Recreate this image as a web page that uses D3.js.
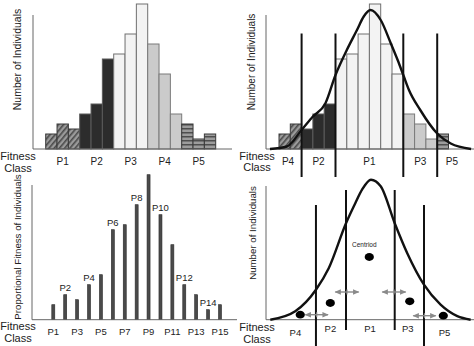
<!DOCTYPE html>
<html>
<head>
<meta charset="utf-8">
<script src="https://cdn.jsdelivr.net/npm/d3@7"></script>
<style>
  html, body { margin: 0; padding: 0; background: #fff; }
  svg { display: block; font-family: "Liberation Sans", Arial, sans-serif; }
</style>
</head>
<body>
<svg id="chart" width="474" height="346"></svg>
<script>
// ---- data ----
var binCounts   = [3, 5, 4, 7, 9, 18, 19, 23, 29, 21, 15, 7, 5, 2, 3];
var classesA    = ["P1","P1","P1","P2","P2","P2","P3","P3","P3","P4","P4","P4","P5","P5","P5"];
var classOrderA = ["P1","P2","P3","P4","P5"];
var classesB    = ["P4","P4","P2","P2","P2","P1","P1","P1","P1","P1","P1","P3","P3","P3","P5"];
var classOrderB = ["P4","P2","P1","P3","P5"];
var classCentersB = [0.8, 3.5, 8.0, 12.5, 15.3];   // fitness units

var popLabels = d3.range(1, 16).map(function(d) { return "P" + d; });

// normal curve (fitness units, counts)
var curveTopX = [-0.8, 0.7, 2.0, 3.0, 4.1, 5.0, 6.0, 6.9, 7.5, 8.1, 9.0, 9.9, 10.5, 11.0, 11.5, 12.5, 14.0, 15.2, 17.0];
var curveTopY = [0, 0.5, 3.8, 6.5, 9.1, 14.8, 19.8, 23.8, 26.5, 27.8, 25.8, 21.1, 17.8, 14.8, 11.8, 7.8, 3.1, 1.1, 0];

// curve from the bottom-right panel
var curveBotX = [-0.77, 1.44, 3.27, 4.4, 5.93, 6.75, 7.35, 8.14, 9.0, 10.24, 11.35, 12.83, 14.3, 15.78, 16.96];
var curveBotY = [0, 1.7, 6.0, 10.3, 19.3, 23.3, 26.0, 28.0, 26.7, 19.3, 13.3, 7.0, 3.0, 0.7, 0];

var bounds4     = [3.27, 5.93, 10.24, 12.83];
var dotNames    = ["P4","P2","Centriod","P3","P5"];
var dotX        = [1.88, 4.54, 7.99, 11.57, 14.54];
var dotY        = [1.0, 3.34, 12.54, 3.68, 0.8];
var arrowFrom   = [2.33, 4.98, 9.14, 11.88];
var arrowTo     = [4.34, 7.05, 11.21, 13.87];
var arrowY      = [1.0, 5.54, 5.54, 0.8];
var classNames4 = ["P4","P2","P1","P3","P5"];
var classCenters4 = [1.45, 4.55, 8.05, 11.4, 14.65];

// ---- drawing ----
var svg = d3.select("#chart");
var defs = svg.append("defs");

var hatch = defs.append("pattern").attr("id", "hatch")
    .attr("patternUnits", "userSpaceOnUse").attr("width", 4).attr("height", 4)
    .attr("patternTransform", "rotate(40)");
hatch.append("rect").attr("width", 4).attr("height", 4).attr("fill", "#9a9a9a");
hatch.append("rect").attr("width", 1.6).attr("height", 4).attr("fill", "#4a4a4a");

var stripes = defs.append("pattern").attr("id", "stripes")
    .attr("patternUnits", "userSpaceOnUse").attr("width", 4).attr("height", 4);
stripes.append("rect").attr("width", 4).attr("height", 4).attr("fill", "#9c9c9c");
stripes.append("rect").attr("width", 4).attr("height", 1.5).attr("fill", "#4e4e4e");

defs.append("marker").attr("id", "head")
    .attr("viewBox", "0 0 10 10").attr("refX", 8).attr("refY", 5)
    .attr("markerWidth", 5).attr("markerHeight", 5)
    .attr("orient", "auto-start-reverse")
  .append("path").attr("d", "M0,1 L9,5 L0,9 Z").attr("fill", "#8a8a8a");

var fills  = ["url(#hatch)", "#2c2c2c", "#f3f3f3", "#cbcbcb", "url(#stripes)"];
var stroke = ["#3a3a3a", "#5a5a5a", "#707070", "#7a7a7a", "#3a3a3a"];

function axes(g, x0, top, base, right) {
    g.append("line").attr("x1", x0).attr("x2", x0).attr("y1", top).attr("y2", base)
        .attr("stroke", "#666").attr("stroke-width", 1);
    g.append("line").attr("x1", x0).attr("x2", right).attr("y1", base).attr("y2", base)
        .attr("stroke", "#666").attr("stroke-width", 1);
}

function yTitle(g, text, x, cy, size) {
    g.append("text").attr("transform", "translate(" + x + "," + cy + ") rotate(-90)")
        .attr("text-anchor", "middle").attr("font-size", size).attr("fill", "#222")
        .text(text);
}

function fitnessClass(g, cx, y1, y2) {
    g.append("text").attr("x", cx).attr("y", y1).attr("text-anchor", "middle")
        .attr("font-size", 11).attr("fill", "#222").text("Fitness");
    g.append("text").attr("x", cx).attr("y", y2).attr("text-anchor", "middle")
        .attr("font-size", 11).attr("fill", "#222").text("Class");
}

function histogram(g, x, y, classes, order) {
    g.selectAll("rect.bar").data(binCounts).enter().append("rect")
        .attr("class", "bar")
        .attr("x", function(d, i) { return x(i); })
        .attr("y", function(d) { return y(d); })
        .attr("width", x.bandwidth())
        .attr("height", function(d) { return y(0) - y(d); })
        .attr("fill", function(d, i) { return fills[order.indexOf(classes[i])]; })
        .attr("stroke", function(d, i) { return stroke[order.indexOf(classes[i])]; })
        .attr("stroke-width", 1);
}

// panel 1: top-left histogram
var g1 = svg.append("g");
var x1 = d3.scaleBand().domain(d3.range(binCounts.length)).range([45.7, 215.7]);
var y1 = d3.scaleLinear().domain([0, 29]).range([149, 4]);
histogram(g1, x1, y1, classesA, classOrderA);
axes(g1, 33, 15, 149, 232);
yTitle(g1, "Number of Individuals", 21, 59.5, 10.5);
fitnessClass(g1, 18, 159.5, 171.5);
g1.selectAll("text.cls").data(classOrderA).enter().append("text")
    .attr("class", "cls")
    .attr("x", function(c) {
        var idx = d3.range(classesA.length).filter(function(i) { return classesA[i] === c; });
        return (x1(idx[0]) + x1(idx[idx.length - 1]) + x1.bandwidth()) / 2;
    })
    .attr("y", 165).attr("text-anchor", "middle").attr("font-size", 10).attr("fill", "#222")
    .text(function(c) { return c; });

// panel 2: top-right histogram with normal curve
var g2 = svg.append("g");
var x2 = d3.scaleBand().domain(d3.range(binCounts.length)).range([279, 448.5]);
var f2 = d3.scaleLinear().domain([0, 15]).range([279, 448.5]);
var y2 = d3.scaleLinear().domain([0, 29]).range([149, 4]);
histogram(g2, x2, y2, classesB, classOrderB);
axes(g2, 266, 15, 149, 474);
yTitle(g2, "Number of Individuals", 255, 62, 10);
fitnessClass(g2, 257, 160, 171);

var cuts2 = [];
classOrderB.slice(0, -1).reduce(function(acc, c) {
    var n = classesB.filter(function(k) { return k === c; }).length;
    cuts2.push(acc + n);
    return acc + n;
}, 0);
g2.selectAll("line.cut").data(cuts2).enter().append("line")
    .attr("class", "cut")
    .attr("x1", function(d) { return f2(d); }).attr("x2", function(d) { return f2(d); })
    .attr("y1", 33.5).attr("y2", 177)
    .attr("stroke", "#111").attr("stroke-width", 2);

var line2 = d3.line()
    .x(function(d, i) { return f2(curveTopX[i]); })
    .y(function(d) { return y2(d); })
    .curve(d3.curveMonotoneX);
g2.append("path").attr("d", line2(curveTopY))
    .attr("fill", "none").attr("stroke", "#111").attr("stroke-width", 2.4);

g2.selectAll("text.cls").data(classOrderB).enter().append("text")
    .attr("class", "cls")
    .attr("x", function(c, i) { return f2(classCentersB[i]); })
    .attr("y", 164.5).attr("text-anchor", "middle").attr("font-size", 10).attr("fill", "#222")
    .text(function(c) { return c; });

// panel 3: bottom-left proportional fitness bars
var g3 = svg.append("g");
var x3 = d3.scalePoint().domain(popLabels).range([53.3, 220]);
var y3 = d3.scaleLinear().domain([0, 29]).range([319.7, 174.7]);
g3.selectAll("rect.bar").data(binCounts).enter().append("rect")
    .attr("class", "bar")
    .attr("x", function(d, i) { return x3(popLabels[i]) - 1.5; })
    .attr("y", function(d) { return y3(d); })
    .attr("width", 3)
    .attr("height", function(d) { return y3(0) - y3(d); })
    .attr("fill", "#4a4a4a").attr("stroke", "#2a2a2a").attr("stroke-width", 0.6);
axes(g3, 32, 185, 319.7, 237);
yTitle(g3, "Proportional Fitness of Individuals", 21, 247, 9.7);
fitnessClass(g3, 18, 330, 342);
g3.selectAll("text.lab").data(popLabels).enter().append("text")
    .attr("class", "lab")
    .attr("x", function(p) { return x3(p); })
    .attr("y", function(p, i) { return i % 2 === 0 ? 335 : y3(binCounts[i]) - 4; })
    .attr("text-anchor", "middle").attr("font-size", 9.5).attr("fill", "#222")
    .text(function(p) { return p; });

// panel 4: bottom-right curve with centroids
var g4 = svg.append("g");
var f4 = d3.scaleLinear().domain([0, 15]).range([279, 448.5]);
var y4 = d3.scaleLinear().domain([0, 29]).range([319.7, 174.7]);
axes(g4, 266, 186, 319.7, 474);
yTitle(g4, "Number of Individuals", 255.5, 233, 9.7);
fitnessClass(g4, 257, 331, 343);

var lineTop = [205, 190, 190, 205];
var lineBot = [346, 330, 330, 346];
g4.selectAll("line.cut").data(bounds4).enter().append("line")
    .attr("class", "cut")
    .attr("x1", function(d) { return f4(d); }).attr("x2", function(d) { return f4(d); })
    .attr("y1", function(d, i) { return lineTop[i]; })
    .attr("y2", function(d, i) { return lineBot[i]; })
    .attr("stroke", "#111").attr("stroke-width", 2);

var line4 = d3.line()
    .x(function(d, i) { return f4(curveBotX[i]); })
    .y(function(d) { return y4(d); })
    .curve(d3.curveMonotoneX);
g4.append("path").attr("d", line4(curveBotY))
    .attr("fill", "none").attr("stroke", "#111").attr("stroke-width", 2.4);

g4.selectAll("g.arrow").data(arrowY).enter().append("g")
    .attr("class", "arrow")
    .each(function(d, i) {
        var a = d3.select(this);
        a.append("line")
            .attr("x1", f4(arrowFrom[i])).attr("x2", f4(arrowTo[i]))
            .attr("y1", y4(d)).attr("y2", y4(d))
            .attr("stroke", "#8a8a8a").attr("stroke-width", 1.4)
            .attr("marker-start", "url(#head)").attr("marker-end", "url(#head)");
        var mx = f4((arrowFrom[i] + arrowTo[i]) / 2);
        a.append("line").attr("x1", mx).attr("x2", mx)
            .attr("y1", y4(d) - 2.5).attr("y2", y4(d) + 2.5)
            .attr("stroke", "#8a8a8a").attr("stroke-width", 1.2);
    });

g4.selectAll("ellipse.dot").data(dotY).enter().append("ellipse")
    .attr("class", "dot")
    .attr("cx", function(d, i) { return f4(dotX[i]); })
    .attr("cy", function(d) { return y4(d); })
    .attr("rx", 4.6).attr("ry", 3.9).attr("fill", "#000");

g4.append("text").attr("x", f4(dotX[2]) - 5).attr("y", y4(dotY[2]) - 10)
    .attr("text-anchor", "middle").attr("font-size", 6.5).attr("fill", "#222")
    .text(dotNames[2]);

var dropLab = [336, 332, 332, 332, 336];
g4.selectAll("text.cls").data(classNames4).enter().append("text")
    .attr("class", "cls")
    .attr("x", function(c, i) { return f4(classCenters4[i]); })
    .attr("y", function(c, i) { return dropLab[i]; })
    .attr("text-anchor", "middle").attr("font-size", 9.5).attr("fill", "#222")
    .text(function(c) { return c; });
</script>
</body>
</html>
